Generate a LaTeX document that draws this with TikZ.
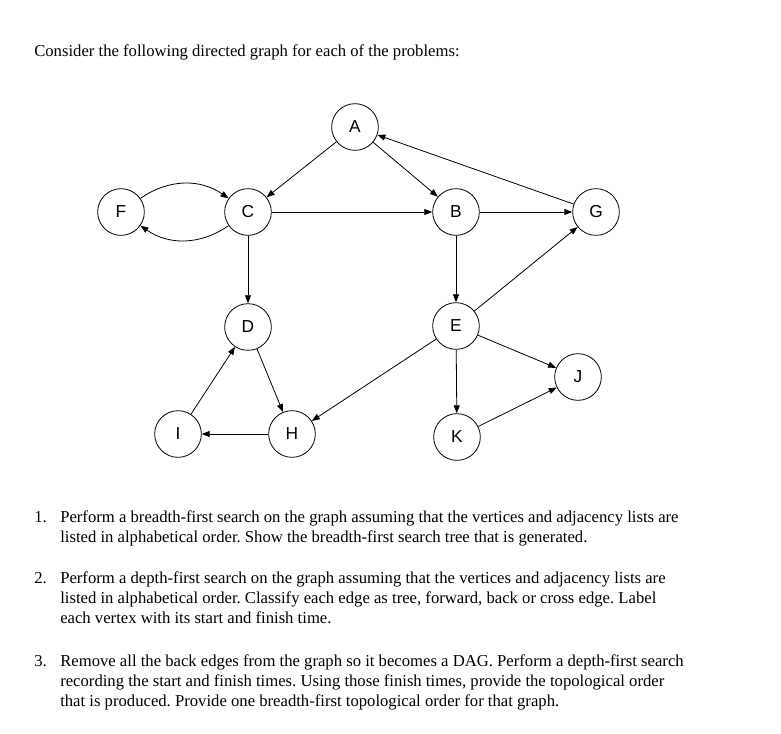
\documentclass[tikz,border=0pt]{standalone}
\usepackage{fontspec}
\setmainfont{Liberation Serif}
\newfontfamily\vertexfont{Liberation Sans}
\usetikzlibrary{arrows.meta}

\tikzset{
  vertex/.style={draw, circle, minimum size=35pt, inner sep=0pt,
    line width=0.6pt, font=\vertexfont\fontsize{13}{15}\selectfont},
  edge/.style={-{Triangle[length=6pt,width=4.5pt]}, line width=0.6pt},
  textline/.style={anchor=base west, inner sep=0pt,
    font=\fontsize{12.5}{15}\selectfont\frenchspacing},
}

\begin{document}
\begin{tikzpicture}[x=0.75pt,y=-0.75pt]
  \useasboundingbox (0,0) rectangle (781,733);

  \node[textline] (title) at (34,56.7) {Consider the following directed graph for each of the problems:};

  % vertices
  \node[vertex] (A) at (355,127) {A};
  \node[vertex] (F) at (121,212) {F};
  \node[vertex] (C) at (248,212) {C};
  \node[vertex] (B) at (456,212) {B};
  \node[vertex] (G) at (596,212) {G};
  \node[vertex] (D) at (248,327) {D};
  \node[vertex] (E) at (456,326) {E};
  \node[vertex] (J) at (578,377) {J};
  \node[vertex] (I) at (178,434) {I};
  \node[vertex] (H) at (292,434) {H};
  \node[vertex] (K) at (457,437) {K};

  % edges
  \draw[edge] (A) -- (C);
  \draw[edge] (A) -- (B);
  \draw[edge] (G) -- (A);
  \draw[edge] (F) to[bend left=35] (C);
  \draw[edge] (C) to[bend left=35] (F);
  \draw[edge] (C) -- (B);
  \draw[edge] (B) -- (G);
  \draw[edge] (C) -- (D);
  \draw[edge] (B) -- (E);
  \draw[edge] (E) -- (G);
  \draw[edge] (E) -- (H);
  \draw[edge] (E) -- (J);
  \draw[edge] (E) -- (K);
  \draw[edge] (K) -- (J);
  \draw[edge] (D) -- (H);
  \draw[edge] (H) -- (I);
  \draw[edge] (I) -- (D);

  % problems
  \node[textline] (n1) at (34,522.7) {1.};
  \node[textline] (p1a) at (60,522.7) {Perform a breadth-first search on the graph assuming that the vertices and adjacency lists are};
  \node[textline] (p1b) at (60,542.7) {listed in alphabetical order. Show the breadth-first search tree that is generated.};

  \node[textline] (n2) at (34,583) {2.};
  \node[textline] (p2a) at (60,583) {Perform a depth-first search on the graph assuming that the vertices and adjacency lists are};
  \node[textline] (p2b) at (60,603) {listed in alphabetical order. Classify each edge as tree, forward, back or cross edge. Label};
  \node[textline] (p2c) at (60,623) {each vertex with its start and finish time.};

  \node[textline] (n3) at (34,666.7) {3.};
  \node[textline] (p3a) at (60,666.7) {Remove all the back edges from the graph so it becomes a DAG. Perform a depth-first search};
  \node[textline] (p3b) at (60,686.7) {recording the start and finish times. Using those finish times, provide the topological order};
  \node[textline] (p3c) at (60,706.7) {that is produced. Provide one breadth-first topological order for that graph.};
\end{tikzpicture}
\end{document}
